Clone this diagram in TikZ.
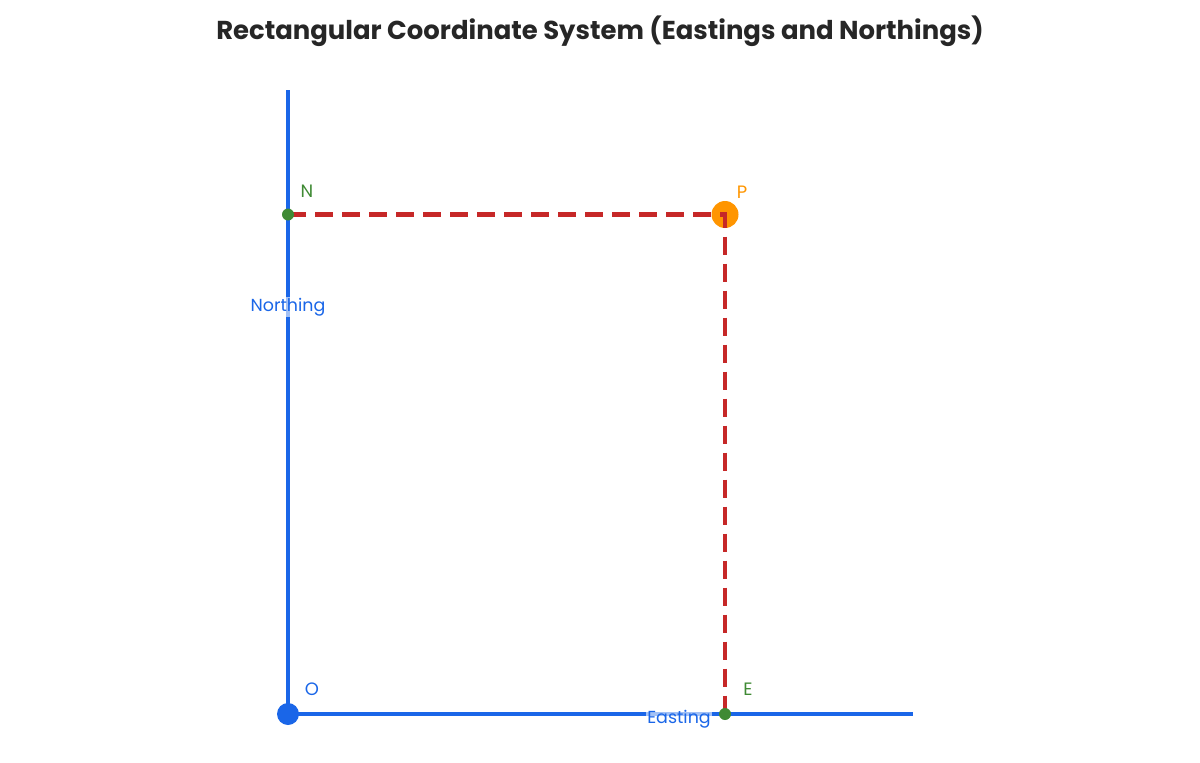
\documentclass[tikz,border=0pt]{standalone}
\usepackage{fontspec}
\setmainfont{Poppins}
\definecolor{axisblue}{HTML}{1A66E8}
\definecolor{ptgreen}{HTML}{3F8A34}
\definecolor{ptorange}{HTML}{FF9500}
\definecolor{dashred}{HTML}{C62828}
\begin{document}
\begin{tikzpicture}[x=1bp,y=-1bp,
  axis/.style={draw=axisblue,line width=4.2bp},
  proj/.style={draw=dashred,line width=4.2bp,dash pattern=on 18bp off 9bp},
  dotg/.style={circle,fill=ptgreen,inner sep=0pt,minimum size=12bp},
  axlabel/.style={text=axisblue,font=\fontsize{17.5}{20}\selectfont,fill=white,fill opacity=0.6,text opacity=1,inner sep=1bp},
  ptlabel/.style={font=\fontsize{18}{20}\selectfont}]
\useasboundingbox (0,0) rectangle (1200,763);
\node[font=\bfseries\fontsize{26}{30}\selectfont,text=black!85] (title) at (600,31) {Rectangular Coordinate System (Eastings and Northings)};
\coordinate (O) at (288,714);
\coordinate (ytop) at (288,90);
\coordinate (xend) at (913,714);
\coordinate (Nc) at (288,214.5);
\coordinate (Pc) at (725,214.5);
\coordinate (Ec) at (725,714);
\draw[axis] (O) -- (ytop);
\draw[axis] (O) -- (xend);
\node[circle,fill=ptorange,inner sep=0pt,minimum size=27bp] (P) at (Pc) {};
\draw[proj] (Nc) -- (Pc) -- (Ec);
\node[circle,fill=axisblue,inner sep=0pt,minimum size=22bp] (Odot) at (O) {};
\node[dotg] (N) at (Nc) {};
\node[dotg] (E) at (Ec) {};
\node[ptlabel,text=axisblue] (Olab) at (312,689) {O};
\node[ptlabel,text=ptgreen] (Nlab) at (307,191) {N};
\node[ptlabel,text=ptorange] (Plab) at (742,192) {P};
\node[ptlabel,text=ptgreen] (Elab) at (748,689) {E};
\node[axlabel] (northing) at (288,307) {Northing};
\node[axlabel] (easting) at (679,719) {Easting};
\end{tikzpicture}
\end{document}
